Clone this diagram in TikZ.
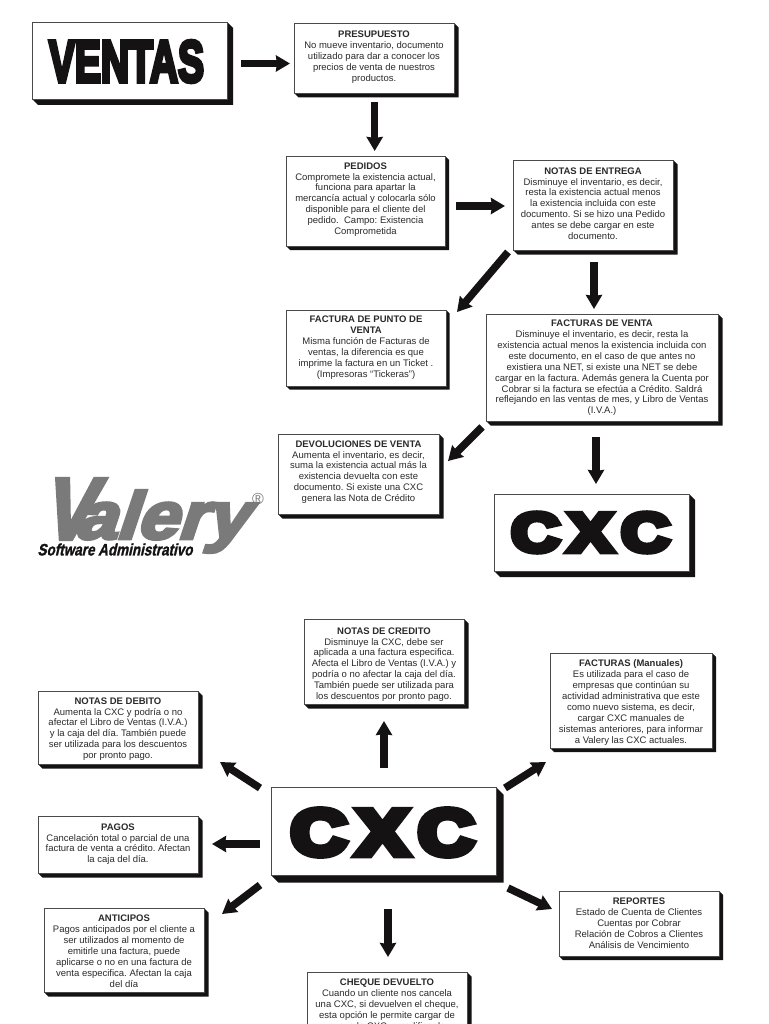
\documentclass[tikz,border=0pt]{standalone}
\usepackage{fontspec}
\usepackage{graphicx}
\setmainfont{Liberation Sans}
\newfontfamily\heavyfont{Liberation Sans}[BoldFeatures={FakeBold=7}]
\newfontfamily\blackfont{Liberation Sans}[BoldFeatures={FakeBold=11}]
\newfontfamily\logofont{Liberation Sans}[BoldFeatures={FakeBold=1.5,FakeSlant=0.28}]
\newfontfamily\logobigfont{Liberation Sans}[BoldFeatures={FakeBold=5,FakeSlant=0.3}]
\usetikzlibrary{arrows.meta,calc}
\definecolor{ink}{HTML}{141212}
\definecolor{bodytext}{HTML}{2A2A2A}
\definecolor{edge}{HTML}{4A4A4A}
\definecolor{logogray}{HTML}{7A7A7A}
\tikzset{
  x=1pt,y=-1pt,
  cardbox/.style={draw=edge,line width=0.9pt,fill=white,inner sep=0pt,outer sep=0pt,text=bodytext},
  blockarrow/.style={draw=ink,line width=7.5pt,-{Stealth[length=14pt,width=16pt,inset=1pt]}},
  heavytext/.style={inner sep=0pt,text=ink},
}
\newcommand{\dropbox}[8]{%
  \fill[ink] (#4,#3) -- (#4+#6,#3+#6) -- (#4+#6,#5+#6) -- (#2+#6,#5+#6) -- (#2,#5) -- cycle;
  \node[cardbox] (#1) at ({(#2+#4)/2},{(#3+#5)/2})
    {\parbox[c][\dimexpr #5pt-#3pt\relax][t]{\dimexpr #4pt-#2pt\relax}{\frenchspacing\centering\fontsize{9.5pt}{10.9pt}\selectfont\vspace*{#7pt}\mbox{}#8\par}};
}
\newcommand{\spacedcxc}{\blackfont\bfseries C\kern0.13em X\kern0.13em C}
\begin{document}
\begin{tikzpicture}
\useasboundingbox (0,0) rectangle (768,1024);
\clip (0,0) rectangle (768,1024);
\fill[white] (0,0) rectangle (768,1024);

\dropbox{ventas}{32}{22}{227}{99}{6}{0}{}
\node[heavytext] (ventasT) at (126.5,61.5) {\resizebox{155pt}{41pt}{\heavyfont\bfseries VENTAS}};
\dropbox{pres}{294}{23}{454}{93}{4.5}{8}{\textbf{PRESUPUESTO}\\No mueve inventario, documento\\utilizado para dar a conocer los\\precios de venta de nuestros\\productos.}
\dropbox{ped}{286}{156}{445}{246}{4}{6.5}{\textbf{PEDIDOS}\\Compromete la existencia actual,\\funciona para apartar la\\mercancía actual y colocarla sólo\\disponible para el cliente del\\pedido.\ \ Campo: Existencia\\Comprometida}
\dropbox{ent}{513}{160}{673}{250}{4.5}{7.5}{\textbf{NOTAS DE ENTREGA}\\Disminuye el inventario, es decir,\\resta la existencia actual menos\\la existencia incluida con este\\documento. Si se hizo una Pedido\\antes se debe cargar en este\\documento.}
\dropbox{punto}{286}{310}{446}{386}{3.5}{6}{\textbf{FACTURA DE PUNTO DE}\\\textbf{VENTA}\\Misma función de Facturas de\\ventas, la diferencia es que\\imprime la factura en un Ticket .\\(Impresoras “Tickeras”)}
\dropbox{fac}{486}{314}{718}{421}{4.5}{6}{\textbf{FACTURAS DE VENTA}\\Disminuye el inventario, es decir, resta la\\existencia actual menos la existencia incluida con\\este documento, en el caso de que antes no\\existiera una NET, si existe una NET se debe\\cargar en la factura. Además genera la Cuenta por\\Cobrar si la factura se efectúa a Crédito. Saldrá\\reflejando en las ventas de mes, y Libro de Ventas\\(I.V.A.)}
\dropbox{dev}{278}{434}{439}{514}{4.5}{6.5}{\textbf{DEVOLUCIONES DE VENTA}\\Aumenta el inventario, es decir,\\suma la existencia actual más la\\existencia devuelta con este\\documento. Si existe una CXC\\genera las Nota de Crédito}
\dropbox{cxcA}{494}{494}{689}{571}{6}{0}{}
\node[heavytext] (cxcAT) at (590.5,532.5) {\resizebox{158pt}{38pt}{\spacedcxc}};

\node[inner sep=0pt,text=logogray] (valeryV) at (66,509) {\resizebox*{50pt}{60pt}{\logobigfont\bfseries V}};
\node[inner sep=0pt,text=logogray] (valery) at (160,521.5) {\resizebox*{172pt}{62pt}{\logobigfont\bfseries alery}};
\node[inner sep=0pt,text=ink] (soft) at (115,549.5) {\resizebox{155pt}{12pt}{\logofont\bfseries Software Administrativo}};
\node[inner sep=0pt,text=logogray,font=\fontsize{16pt}{16pt}\selectfont] (reg) at (258,499) {®};

\dropbox{cxcB}{271}{787}{496}{875}{7.5}{0}{}
\node[heavytext] (cxcBT) at (382.5,832.5) {\resizebox{183pt}{45pt}{\spacedcxc}};
\dropbox{cred}{304}{619}{464}{704}{4.5}{8.5}{\textbf{NOTAS DE CREDITO}\\Disminuye la CXC, debe ser\\aplicada a una factura especifica.\\Afecta el Libro de Ventas (I.V.A.) y\\podría o no afectar la caja del día.\\También puede ser utilizada para\\los descuentos por pronto pago.}
\dropbox{man}{550}{653}{712}{748}{4}{7}{\textbf{FACTURAS (Manuales)}\\Es utilizada para el caso de\\empresas que continúan su\\actividad administrativa que este\\como nuevo sistema, es decir,\\cargar CXC manuales de\\sistemas anteriores, para informar\\a Valery las CXC actuales.}
\dropbox{deb}{38}{691}{198}{764}{4.5}{6.5}{\textbf{NOTAS DE DEBITO}\\Aumenta la CXC y podría o no\\afectar el Libro de Ventas (I.V.A.)\\y la caja del día. También puede\\ser utilizada para los descuentos\\por pronto pago.}
\dropbox{pag}{38}{816}{198}{873}{4.5}{7.5}{\textbf{PAGOS}\\Cancelación total o parcial de una\\factura de venta a crédito. Afectan\\la caja del día.}
\dropbox{ant}{44}{908}{204}{992}{4.5}{7}{\textbf{ANTICIPOS}\\Pagos anticipados por el cliente a\\ser utilizados al momento de\\emitirle una factura, puede\\aplicarse o no en una factura de\\venta especifica. Afectan la caja\\del día}
\dropbox{rep}{559}{891}{719}{956}{4}{7}{\textbf{REPORTES}\\Estado de Cuenta de Clientes\\Cuentas por Cobrar\\Relación de Cobros a Clientes\\Análisis de Vencimiento}
\dropbox{che}{307}{972}{467}{1060}{4.5}{7}{\textbf{CHEQUE DEVUELTO}\\Cuando un cliente nos cancela\\una CXC, si devuelven el cheque,\\esta opción le permite cargar de\\nuevo la CXC y modificar la}

\draw[blockarrow] ($(ventas.east)+(14,3)$) -- ($(pres.west)+(-4,5.5)$);
\draw[blockarrow] ($(pres.south)+(0.7,9)$) -- ($(ped.north)+(9.2,-5)$);
\draw[blockarrow] ($(ped.east)+(11,5)$) -- ($(ent.west)+(-8,1)$);
\draw[blockarrow] ($(ent.south west)+(-5,2)$) -- ($(punto.north east)+(11,2)$);
\draw[blockarrow] ($(ent.south)+(1,12)$) -- ($(fac.north)+(-8,-5)$);
\draw[blockarrow] ($(fac.south west)+(-4,6)$) -- ($(dev.north east)+(9,27)$);
\draw[blockarrow] ($(fac.south)+(-6,16)$) -- ($(cxcA.north)+(4.5,-10)$);
\draw[blockarrow] ($(cxcB.north)+(0.5,-19)$) -- ($(cred.south)+(0,17)$);
\draw[blockarrow] ($(cxcB.north east)+(9,1)$) -- ($(man.south west)+(-4,14)$);
\draw[blockarrow] ($(cxcB.north west)+(-11,1)$) -- ($(deb.south east)+(22,-2)$);
\draw[blockarrow] ($(cxcB.west)+(-11,13)$) -- ($(pag.east)+(14,-0.5)$);
\draw[blockarrow] ($(cxcB.south west)+(-11,10)$) -- ($(ant.north east)+(18,6)$);
\draw[blockarrow] ($(cxcB.south)+(4.5,34)$) -- ($(che.north)+(1,-15)$);
\draw[blockarrow] ($(cxcB.south east)+(12,13)$) -- ($(rep.north west)+(-7,18)$);
\end{tikzpicture}
\end{document}
